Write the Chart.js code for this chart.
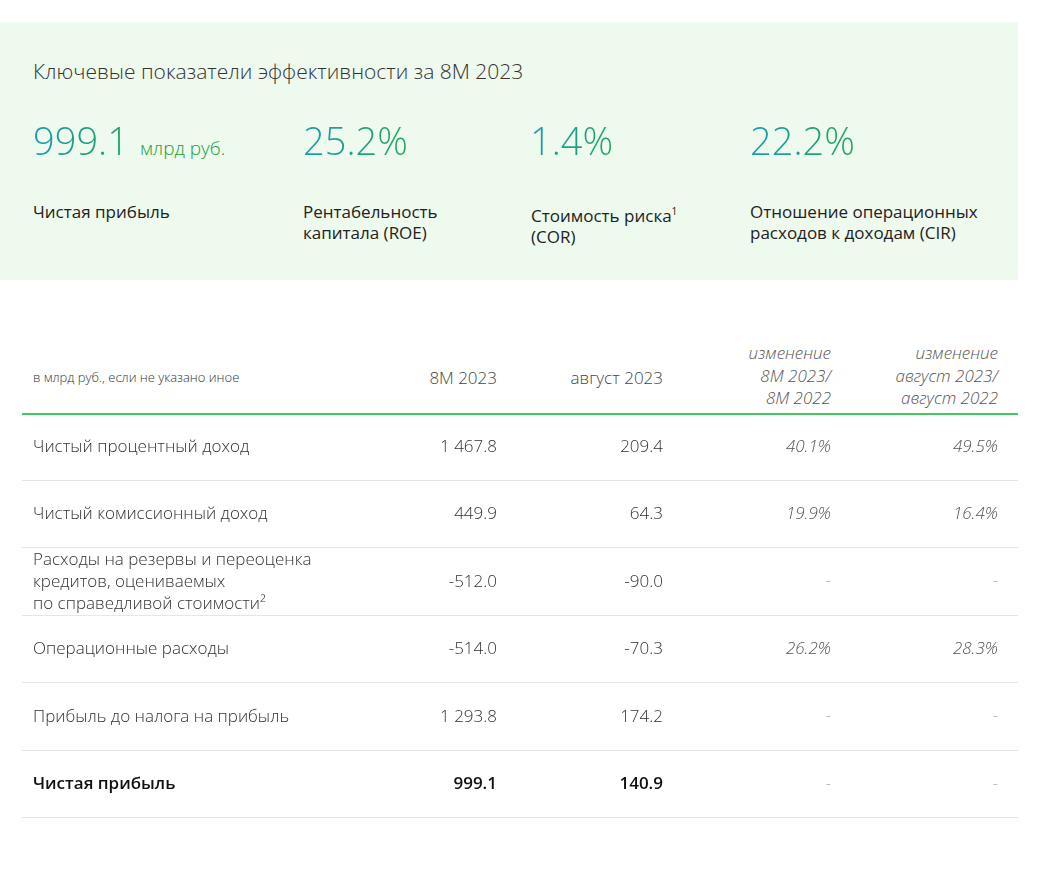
<!DOCTYPE html>
<html><head><meta charset="utf-8">
<script src="https://cdn.jsdelivr.net/npm/chart.js@4/dist/chart.umd.min.js"></script>
<style>
body{margin:0;width:1047px;height:878px;background:#fff;font-family:"Open Sans",sans-serif;color:#333;position:relative;overflow:hidden}
#panel{position:absolute;left:0;top:22px;width:1018px;height:258px;background:#eefaee}
.t{position:absolute;white-space:nowrap}
.big{font-size:38px;font-weight:300;background:linear-gradient(90deg,#1a9cb0,#22a55a);-webkit-background-clip:text;color:transparent}
.lbl{font-size:17px;line-height:21px;color:#222}
.hd{font-size:17px;font-weight:300;color:#444;text-align:right}
.hi{font-size:17px;font-weight:300;font-style:italic;color:#555;text-align:right;line-height:22.5px}
sup{font-size:10px}
#c{position:absolute;left:0;top:413px}
</style></head><body>
<div id="panel"></div>
<div class="t" style="left:33px;top:57px;font-size:21px;font-weight:300;color:#333">Ключевые показатели эффективности за 8М 2023</div>
<div class="t big" style="left:33px;top:114px">999.1</div>
<div class="t" style="left:140px;top:135px;font-size:19px;font-weight:300;color:#21a038">млрд руб.</div>
<div class="t big" style="left:303px;top:114px">25.2%</div>
<div class="t big" style="left:530px;top:114px">1.4%</div>
<div class="t big" style="left:750px;top:114px">22.2%</div>
<div class="t lbl" style="left:33px;top:201px">Чистая прибыль</div>
<div class="t lbl" style="left:303px;top:201px">Рентабельность<br>капитала (ROE)</div>
<div class="t lbl" style="left:531px;top:201px">Стоимость риска<sup>1</sup><br>(COR)</div>
<div class="t lbl" style="left:750px;top:201px">Отношение операционных<br>расходов к доходам (CIR)</div>
<div class="t" style="left:33px;top:368px;font-size:13px;font-weight:300;color:#333">в млрд руб., если не указано иное</div>
<div class="t hd" style="right:550px;top:366px">8М 2023</div>
<div class="t hd" style="right:384px;top:366px">август 2023</div>
<div class="t hi" style="right:216px;top:342px">изменение<br>8М 2023/<br>8М 2022</div>
<div class="t hi" style="right:49px;top:342px">изменение<br>август 2023/<br>август 2022</div>
<canvas id="c" width="1047" height="405"></canvas>
<script>
const rowLabels=[["Чистый процентный доход"],["Чистый комиссионный доход"],["Расходы на резервы и переоценка","кредитов, оцениваемых","по справедливой стоимости²"],["Операционные расходы"],["Прибыль до налога на прибыль"],["Чистая прибыль"]];
const values8M=["1 467.8","449.9","-512.0","-514.0","1 293.8","999.1"];
const valuesAug=["209.4","64.3","-90.0","-70.3","174.2","140.9"];
const change8M=["40.1%","19.9%","-","26.2%","-","-"];
const changeAug=["49.5%","16.4%","-","28.3%","-","-"];
const boldRows=[false,false,false,false,false,true];
const colRight=[497,663,831,998];
const tablePlugin={id:'table',afterDraw(ch){
  const c=ch.ctx,ys=ch.scales.y;c.save();
  c.strokeStyle='#45c760';c.lineWidth=2;c.beginPath();c.moveTo(22,1);c.lineTo(1018,1);c.stroke();
  const h=ys.height/rowLabels.length;
  rowLabels.forEach((lab,i)=>{
    const y=ys.getPixelForValue(i);
    c.strokeStyle='#e6e6e6';c.lineWidth=1;c.beginPath();c.moveTo(22,Math.round(y+h/2)-0.5);c.lineTo(1018,Math.round(y+h/2)-0.5);c.stroke();
    const w=boldRows[i]?'600 ':'300 ';
    c.textBaseline='middle';c.fillStyle=boldRows[i]?'#111':'#333';
    c.font=w+'17px "Open Sans"';c.textAlign='left';
    lab.forEach((l,k)=>c.fillText(l,33,y+(k-(lab.length-1)/2)*22));
    c.textAlign='right';
    c.fillText(values8M[i],colRight[0],y);c.fillText(valuesAug[i],colRight[1],y);
    [change8M[i],changeAug[i]].forEach((v,k)=>{
      if(v==='-'){c.font='300 16px "Open Sans"';c.fillStyle='#aaa';}
      else{c.font='italic 300 17px "Open Sans"';c.fillStyle='#555';}
      c.fillText(v,colRight[2+k],y);
    });
  });
  c.restore();}};
new Chart(document.getElementById('c'),{type:'scatter',
 data:{labels:rowLabels.map(r=>r.join(' ')),datasets:[{data:[],pointRadius:0}]},
 options:{responsive:false,animation:false,devicePixelRatio:1,layout:{padding:0},
  plugins:{legend:{display:false},tooltip:{enabled:false}},
  scales:{x:{type:'linear',display:false,min:0,max:1},
   y:{type:'category',display:false,offset:true,labels:rowLabels.map((r,i)=>i),reverse:false}}},
 plugins:[tablePlugin]});
</script>
</body></html>
